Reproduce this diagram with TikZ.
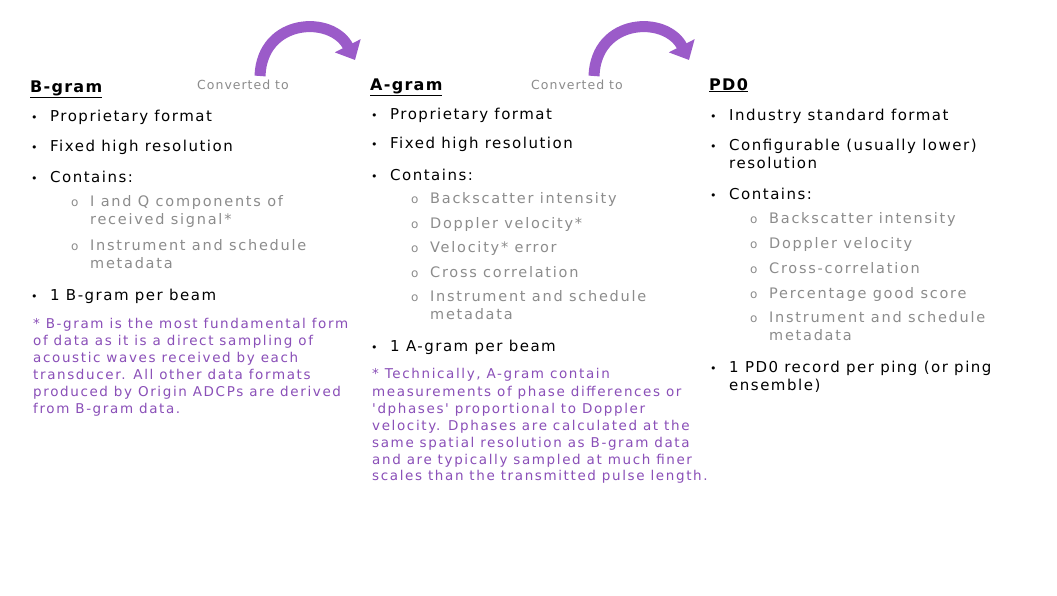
\documentclass[tikz,border=0pt]{standalone}
\usepackage{fontspec}
\setmainfont{DejaVu Sans}
\newfontfamily\fA{DejaVu Sans}[LetterSpace=10]
\newfontfamily\fB{DejaVu Sans}[LetterSpace=12]
\newfontfamily\fC{DejaVu Sans}[LetterSpace=8]
\usetikzlibrary{arrows.meta}
\definecolor{purp}{HTML}{9B5BC9}
\definecolor{notep}{HTML}{8A4FB8}
\definecolor{subg}{HTML}{8C8C8C}
\begin{document}
\begin{tikzpicture}[x=1pt,y=-1pt,
  every node/.style={inner sep=0pt,anchor=base west},
  ttl/.style={font=\fC\fontsize{16}{18}\selectfont\bfseries},
  itm/.style={font=\fA\fontsize{15}{17}\selectfont},
  sub/.style={font=\fB\fontsize{14.5}{17}\selectfont,text=subg},
  note/.style={font=\fB\fontsize{13.5}{15}\selectfont,text=notep},
  conv/.style={font=\fC\fontsize{12.5}{14}\selectfont,text=subg,anchor=base},
  bul/.style={font=\fontsize{11}{12}\selectfont},
  circ/.style={font=\fontsize{12}{12}\selectfont,text=subg},
  carrow/.style={draw=purp,line width=11pt,-{Triangle[length=16pt,width=28pt]}}]
\useasboundingbox (0,0) rectangle (1057,595);
\fill[white] (0,0) rectangle (1057,595);
% arrows
\coordinate (a1s) at (260,76); \coordinate (a1e) at (355,60);
\coordinate (a2s) at (594,76); \coordinate (a2e) at (689,60);
\draw[carrow] (a1s) .. controls (262,18) and (332,15) .. (a1e);
\draw[carrow] (a2s) .. controls (596,18) and (666,15) .. (a2e);
\node[conv] (c1) at (243,89) {Converted to};
\node[conv] (c2) at (577,89) {Converted to};
% column 1
\node[ttl] (t1) at (30,92) {\underline{B-gram}};
\foreach \y/\t [count=\i] in {121/Proprietary format,151/Fixed high resolution,182/Contains:,300/1 B-gram per beam}{
  \node[bul] (bb\i) at (31,\y) {•};
  \node[itm] (bt\i) at (50,\y) {\t};}
\foreach \y/\t [count=\i] in {206/I and Q components of,250/Instrument and schedule}{
  \node[circ] (bc\i) at (71,\y) {o};}
\foreach \y/\t [count=\i] in {206/I and Q components of,224/received signal*,250/Instrument and schedule,268/metadata}{
  \node[sub] (bs\i) at (90,\y) {\t};}
\foreach \y/\t [count=\i] in {328/* B-gram is the most fundamental form,345/of data as it is a direct sampling of,362/acoustic waves received by each,379/transducer. All other data formats,396/produced by Origin ADCPs are derived,413/from B-gram data.}{
  \node[note] (bn\i) at (33,\y) {\t};}
% column 2
\node[ttl] (t2) at (370,90) {\underline{A-gram}};
\foreach \y/\t [count=\i] in {119/Proprietary format,148/Fixed high resolution,180/Contains:,351/1 A-gram per beam}{
  \node[bul] (ab\i) at (371,\y) {•};
  \node[itm] (at\i) at (390,\y) {\t};}
\foreach \y [count=\i] in {203,228,252,277,301}{
  \node[circ] (ac\i) at (411,\y) {o};}
\foreach \y/\t [count=\i] in {203/Backscatter intensity,228/Doppler velocity*,252/Velocity* error,277/Cross correlation,301/Instrument and schedule,319/metadata}{
  \node[sub] (as\i) at (430,\y) {\t};}
\foreach \y/\t [count=\i] in {378/* Technically{,} A-gram contain,396/measurements of phase differences or,413/'dphases' proportional to Doppler,430/velocity. Dphases are calculated at the,447/same spatial resolution as B-gram data,464/and are typically sampled at much finer,480/scales than the transmitted pulse length.}{
  \node[note] (an\i) at (372,\y) {\t};}
% column 3
\node[ttl] (t3) at (709,90) {\underline{PD0}};
\foreach \y [count=\i] in {120,150,199,372}{
  \node[bul] (pb\i) at (710,\y) {•};}
\foreach \y/\t [count=\i] in {120/Industry standard format,150/Configurable (usually lower),168/resolution,199/Contains:,372/1 PD0 record per ping (or ping,390/ensemble)}{
  \node[itm] (pt\i) at (729,\y) {\t};}
\foreach \y [count=\i] in {223,248,273,298,322}{
  \node[circ] (pc\i) at (750,\y) {o};}
\foreach \y/\t [count=\i] in {223/Backscatter intensity,248/Doppler velocity,273/Cross-correlation,298/Percentage good score,322/Instrument and schedule,340/metadata}{
  \node[sub] (ps\i) at (769,\y) {\t};}
\end{tikzpicture}
\end{document}
